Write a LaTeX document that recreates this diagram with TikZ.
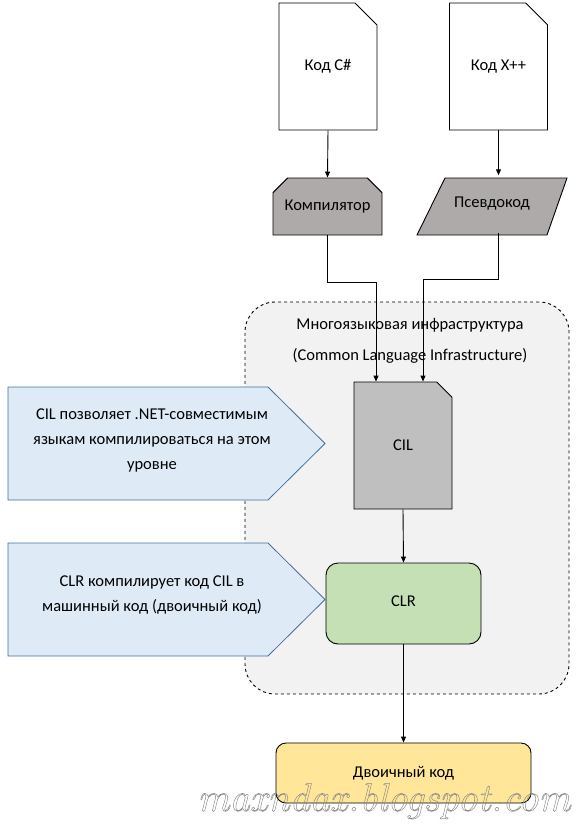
\documentclass[tikz,border=0pt]{standalone}
\usepackage{fontspec}
\setmainfont{Carlito}
\newfontfamily\markfont{Latin Modern Roman}
\usepackage{xcolor}
\usepackage{tikz}
\usetikzlibrary{arrows.meta,shapes.misc,positioning}
\definecolor{shapegray}{HTML}{AEAAAA}
\definecolor{cilgray}{HTML}{BFBFBF}
\definecolor{infrafill}{HTML}{F2F2F2}
\definecolor{clrgreen}{HTML}{C5E0B4}
\definecolor{binyellow}{HTML}{FFE699}
\definecolor{notefill}{HTML}{DEEBF7}
\definecolor{noteedge}{HTML}{41719C}

\begin{document}
\begin{tikzpicture}[x=1pt,y=-1pt,
    every node/.style={font=\fontsize{16.5}{20}\selectfont},
    line/.style={draw=black, line width=0.9pt},
    arr/.style={line, -{Triangle[length=6pt,width=5pt]}},
    doc/.style={chamfered rectangle, chamfered rectangle corners=north east,
      chamfered rectangle sep=15pt, line, inner sep=0pt,
      minimum width=98pt, minimum height=127pt},
    roundbox/.style={rectangle, line, inner sep=0pt},
    note/.style={draw=noteedge, line width=0.8pt, fill=notefill},
    notetext/.style={align=center, font=\fontsize{16.5}{25}\selectfont}]
  \useasboundingbox (0,0) rectangle (579,831);

  % infrastructure frame
  \node[roundbox, dashed, fill=infrafill, rounded corners=30pt,
    minimum width=324pt, minimum height=392pt] (cli) at (407,498) {};
  \node[align=center, font=\fontsize{16.5}{31}\selectfont] (clititle) at (410,341)
    {Многоязыковая инфраструктура\\(Common Language Infrastructure)};

  % source code
  \node[doc, fill=white] (csharp) at (328,66.5) {Код C\#};
  \node[doc, fill=white] (xpp) at (498.5,66.5) {Код X++};

  \node[chamfered rectangle, chamfered rectangle corners={north west,north east},
    chamfered rectangle sep=8pt, line, fill=shapegray, inner sep=0pt,
    minimum width=109pt, minimum height=57pt] (compiler) at (327.5,206.5) {Компилятор};

  \draw[line, fill=shapegray] (417,235) -- (445,178) -- (567,178) -- (547,235) -- cycle;
  \node[minimum width=120pt, minimum height=57pt, inner sep=0pt] (pseudo) at (492,204) {Псевдокод};

  \draw[arr] (csharp.south) -- (compiler.north);
  \draw[arr] (xpp.south) -- (xpp.south |- pseudo.north);

  % CIL and CLR
  \node[doc, fill=cilgray, chamfered rectangle sep=16pt] (cil) at (403,445.5) {CIL};
  \node[roundbox, fill=clrgreen, rounded corners=12pt,
    minimum width=155pt, minimum height=81pt] (clr) at (403.5,603.5) {\raisebox{5pt}{CLR}};
  \node[roundbox, fill=binyellow, rounded corners=10pt,
    minimum width=255pt, minimum height=60pt] (bin) at (403.5,773) {\raisebox{2pt}{Двоичный код}};

  \draw[arr] (compiler.south) -- ++(0,47) -| ([xshift=-27pt]cil.north);
  \draw[arr] (xpp.south |- pseudo.south) -- ++(0,47) -| ([xshift=20pt]cil.north);
  \draw[arr] (cil.south) -- (clr.north);
  \draw[arr] (clr.south) -- (bin.north);

  % notes on the left
  \draw[note] (8,387) -- (268,387) -- (325,443.5) -- (268,500) -- (8,500) -- cycle;
  \node[notetext] (cilnote) at (152,440)
    {CIL позволяет .NET-совместимым\\языкам компилироваться на этом\\уровне};
  \draw[note] (8,543) -- (268,543) -- (325,599.5) -- (268,656) -- (8,656) -- cycle;
  \node[notetext] (clrnote) at (152,595)
    {CLR компилирует код CIL в\\машинный код (двоичный код)};

  % watermark
  \node[anchor=base, text=black!45, font=\markfont\itshape\fontsize{40}{44}\selectfont]
    (blog) at (384,811)
    {\special{pdf:literal direct 1 Tr 0.5 w}maxndax.blogspot.com\special{pdf:literal direct 0 Tr}};
\end{tikzpicture}
\end{document}
